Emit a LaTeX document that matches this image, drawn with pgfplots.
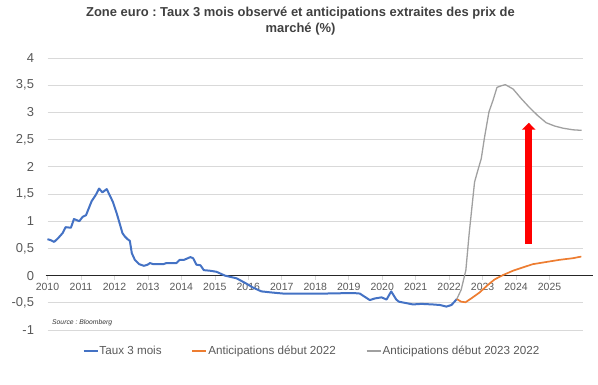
\documentclass[border=0pt]{standalone}
\usepackage{fontspec}
\setmainfont{Liberation Sans}
\usepackage{pgfplots}
\pgfplotsset{compat=1.18}
\usetikzlibrary{arrows.meta}
\definecolor{cblue}{HTML}{4472C4}
\definecolor{corange}{HTML}{ED7D31}
\definecolor{cgrey}{HTML}{A0A0A0}
\definecolor{ctext}{HTML}{595959}
\definecolor{ctitle}{HTML}{404040}
\definecolor{cgrid}{HTML}{D9D9D9}
\frenchspacing
\begin{document}
\begin{tikzpicture}
\path[use as bounding box] (0,0) rectangle (598bp,385bp);
\begin{axis}[
  at={(47.5bp,55bp)}, anchor=south west,
  scale only axis, width=535.5bp, height=272bp,
  xmin=2010, xmax=2026, ymin=-1, ymax=4,
  axis x line=middle, axis y line=left,
  hide obscured x ticks=false,
  x axis line style={-, draw=black!85, line width=0.8bp, shorten >=-10bp, shorten <=-2bp},
  y axis line style={draw=none},
  xtick={2010,2011,2012,2013,2014,2015,2016,2017,2018,2019,2020,2021,2022,2023,2024,2025},
  xticklabels={2010,2011,2012,2013,2014,2015,2016,2017,2018,2019,2020,2021,2022,2023,2024,2025},
  ytick={-1,-0.5,0,0.5,1,1.5,2,2.5,3,3.5,4},
  yticklabels={-1,{-0,5},0,{0,5},1,{1,5},2,{2,5},3,{3,5},4},
  tick align=outside,
  major tick length=4bp,
  xtick style={draw=cgrid, line width=0.6bp},
  ytick style={draw=none},
  ymajorgrids, grid style={draw=cgrid, line width=0.75bp},
  xticklabel style={font=\fontsize{10.5}{12}\selectfont, text=ctext, inner sep=1bp, yshift=-2.5bp},
  yticklabel style={font=\fontsize{13}{15}\selectfont, text=ctext, xshift=-6bp},
  legend style={at={(0.0657,-0.077)}, anchor=west, draw=none, fill=none, inner sep=0pt,
    font=\fontsize{11.7}{13}\selectfont, text=ctext, legend columns=3,
    nodes={inner xsep=1bp, inner ysep=1bp},
    /tikz/every even column/.append style={column sep=29bp}},
  legend image code/.code={\draw[#1, line width=1.6bp] (0bp,0bp) -- (14bp,0bp);},
  clip=false,
]
\addplot[cblue, line width=2bp, line join=round] coordinates {
(2010.00,0.67) (2010.10,0.65) (2010.20,0.62) (2010.32,0.69) (2010.45,0.78) (2010.54,0.89)
(2010.70,0.88) (2010.79,1.04) (2010.95,1.00) (2011.05,1.08) (2011.15,1.11) (2011.32,1.37)
(2011.44,1.48) (2011.54,1.60) (2011.64,1.53) (2011.77,1.59) (2011.95,1.36) (2012.07,1.14)
(2012.17,0.93) (2012.24,0.78) (2012.31,0.72) (2012.39,0.67) (2012.46,0.64) (2012.52,0.41)
(2012.61,0.29) (2012.74,0.21) (2012.88,0.18) (2012.99,0.20) (2013.06,0.23) (2013.16,0.21)
(2013.46,0.21) (2013.55,0.23) (2013.85,0.23) (2013.95,0.29) (2014.08,0.29) (2014.27,0.34)
(2014.35,0.32) (2014.45,0.20) (2014.57,0.19) (2014.67,0.10) (2014.85,0.09) (2015.05,0.07)
(2015.30,0.00) (2015.65,-0.05) (2015.95,-0.15) (2016.14,-0.22) (2016.39,-0.29) (2016.69,-0.31)
(2017.04,-0.33) (2017.50,-0.33) (2018.30,-0.33) (2019.13,-0.32) (2019.33,-0.33) (2019.48,-0.39)
(2019.63,-0.45) (2019.78,-0.42) (2019.98,-0.40) (2020.13,-0.44) (2020.27,-0.29) (2020.42,-0.44)
(2020.50,-0.48) (2020.67,-0.50) (2020.92,-0.53) (2021.17,-0.52) (2021.50,-0.53) (2021.72,-0.54)
(2021.92,-0.57) (2022.07,-0.54) (2022.16,-0.48) (2022.23,-0.43)
};
\addlegendentry{Taux 3 mois}
\addplot[corange, line width=1.7bp, line join=round] coordinates {
(2022.23,-0.43) (2022.36,-0.48) (2022.49,-0.49) (2022.66,-0.42) (2022.91,-0.31) (2023.16,-0.17)
(2023.36,-0.07) (2023.61,0.01) (2023.91,0.09) (2024.20,0.15) (2024.50,0.21) (2024.90,0.25)
(2025.30,0.29) (2025.70,0.32) (2025.95,0.35)
};
\addlegendentry{Anticipations début 2022}
\addplot[cgrey, line width=1.3bp, line join=round] coordinates {
(2022.23,-0.43) (2022.36,-0.26) (2022.50,0.10) (2022.60,0.78) (2022.76,1.72) (2022.86,1.94)
(2022.96,2.15) (2023.06,2.55) (2023.19,3.01) (2023.31,3.22) (2023.43,3.46) (2023.56,3.49)
(2023.68,3.51) (2023.91,3.43) (2024.16,3.25) (2024.40,3.09) (2024.65,2.94) (2024.90,2.81)
(2025.15,2.75) (2025.40,2.71) (2025.70,2.68) (2025.96,2.67)
};
\addlegendentry{Anticipations début 2023 2022}
\draw[red, line width=6.7bp, -{Triangle[width=13.3bp, length=7bp]}] (axis cs:2024.38,0.59) -- (axis cs:2024.38,2.81);
\end{axis}
\node[anchor=base, font=\bfseries\fontsize{13}{16}\selectfont, text=ctitle] at (300.5bp,368bp) {Zone euro : Taux 3 mois observé et anticipations extraites des prix de};
\node[anchor=base, font=\bfseries\fontsize{13}{16}\selectfont, text=ctitle] at (300.5bp,352.3bp) {marché (\%)};
\node[anchor=west, inner sep=0pt, font=\itshape\fontsize{6.8}{8}\selectfont, text=black!80] at (52bp,62bp) {Source : Bloomberg};
\end{tikzpicture}
\end{document}
